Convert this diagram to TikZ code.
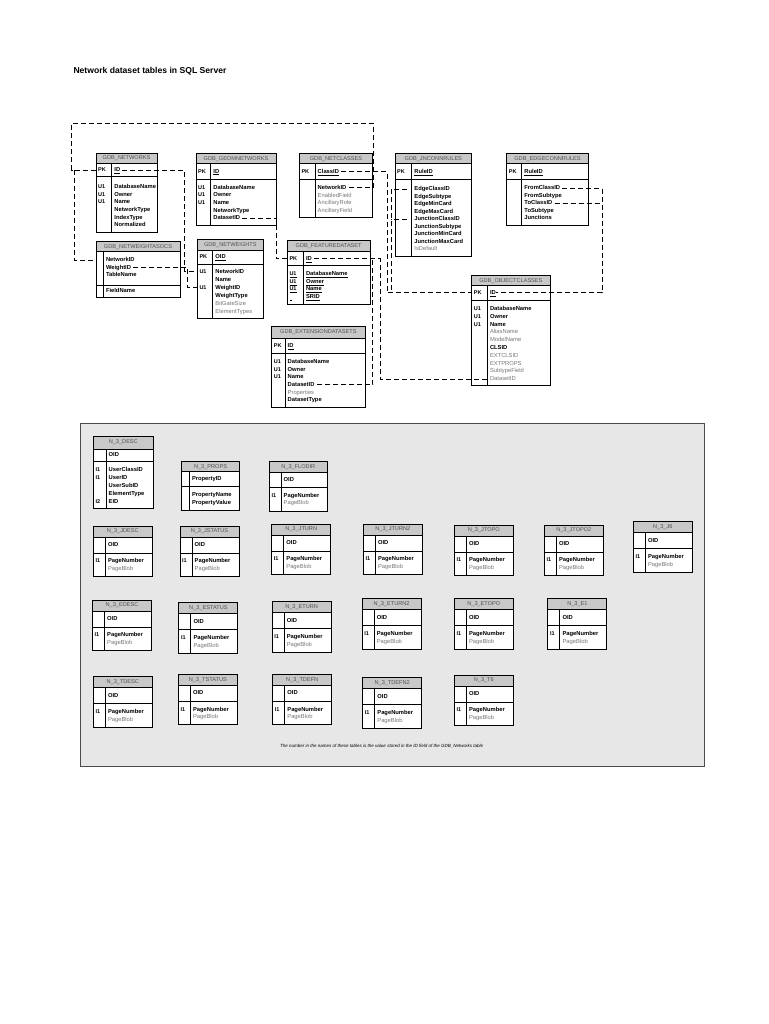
\documentclass[tikz,border=0pt]{standalone}
\usepackage{fontspec}
\setmainfont{Liberation Sans}
\usetikzlibrary{calc}
\definecolor{hdrfill}{HTML}{C8C8C8}
\definecolor{hdrtext}{HTML}{505050}
\definecolor{fieldgray}{HTML}{777777}
\definecolor{panelfill}{HTML}{E7E7E7}
\definecolor{panelline}{HTML}{4A4A4A}
\newcommand\dbU[1]{\underline{#1}}
\newcommand\dbG[1]{{\mdseries\color{fieldgray}#1}}
\pgfkeys{/db/.is family, /db/.cd,
  x/.store in=\dbx, y/.store in=\dby, w/.store in=\dbw,
  h/.store in=\dbh, p/.store in=\dbp, b/.store in=\dbb,
  d/.store in=\dbd, t/.store in=\dbt, s/.store in=\dbs, q/.store in=\dbq}
\newcommand\dbtable[5]{%
  \pgfkeys{/db/.cd,h=10.5,p=15,b=40,d=15,t=9,s=7.7,q=-1,#1}%
  \node[hdrbox,minimum width=\dbw pt,minimum height=\dbh pt,anchor=north west] (#2) at (\dbx,\dby) {#3};
  \node[secbox,minimum width=\dbw pt,minimum height=\dbp pt,anchor=north west] (#2-s1) at (#2.south west) {};
  \node[secbox,minimum width=\dbw pt,minimum height=\dbb pt,anchor=north west] (#2-s2) at (#2-s1.south west) {};
  \draw[tblline] ([xshift=\dbd pt]#2-s1.north west) -- ([xshift=\dbd pt]#2-s2.south west);
  \pgfmathsetmacro\dbqq{\dbq<0 ? \dbp/2 : \dbq}%
  \pgfmathsetmacro\dbfx{\dbd+2.5}%
  \foreach \kk/\ff [count=\ii] in {#4}{%
    \pgfmathsetmacro\yy{\dbqq+(\ii-1)*\dbs}%
    \node[keytext] (#2-pk\ii) at ([xshift=2pt,yshift=-\yy pt]#2-s1.north west) {\kk};
    \node[fldtext] (#2-p\ii) at ([xshift=\dbfx pt,yshift=-\yy pt]#2-s1.north west) {\ff};
  }%
  \foreach \kk/\ff [count=\ii] in {#5}{%
    \pgfmathsetmacro\yy{\dbt+(\ii-1)*\dbs}%
    \node[keytext] (#2-k\ii) at ([xshift=2pt,yshift=-\yy pt]#2-s2.north west) {\kk};
    \node[fldtext] (#2-f\ii) at ([xshift=\dbfx pt,yshift=-\yy pt]#2-s2.north west) {\ff};
  }%
}
\newcommand\nthree[4]{%
  \dbtable{x=#3,y=#4,w=59,h=11,p=16,b=23.5,d=12,t=8.3,s=7.6}{#1}{#2}{{}/OID}{I1/PageNumber,{}/\dbG{PageBlob}}}
\begin{document}
\begin{tikzpicture}[x=1pt,y=-1pt,
  tblline/.style={draw=black,line width=1pt},
  hdrbox/.style={draw=black,line width=1pt,fill=hdrfill,inner sep=0pt,outer sep=0pt,
    text=hdrtext,font=\fontsize{5.6}{6}\selectfont},
  secbox/.style={draw=black,line width=1pt,fill=white,inner sep=0pt,outer sep=0pt},
  keytext/.style={inner sep=0pt,anchor=west,text height=4.3pt,text depth=1pt,
    font=\fontsize{5.5}{6}\selectfont\bfseries},
  fldtext/.style={inner sep=0pt,anchor=west,text height=4.3pt,text depth=1pt,
    font=\fontsize{5.8}{6}\selectfont\bfseries},
  conn/.style={draw=black,line width=0.9pt,dash pattern=on 5pt off 3pt},
  panel/.style={draw=panelline,line width=0.9pt,fill=panelfill,inner sep=0pt,outer sep=0pt}]
\fill[white] (0,0) rectangle (768,1024);
\useasboundingbox (0,0) rectangle (768,1024);

\node[anchor=west,inner sep=0pt,font=\fontsize{8.6}{10}\selectfont\bfseries] (title) at (73.3,71.7) {Network dataset tables in SQL Server};

% bus coordinates for connector routing
\coordinate (bL) at (71.7,123.3);
\coordinate (bR) at (373.3,123.3);
\coordinate (vA) at (74,0);
\coordinate (vN) at (184.5,0);
\coordinate (vW) at (187.5,0);
\coordinate (vC) at (387,0);
\coordinate (vD) at (391,0);
\coordinate (vE) at (602,0);
\coordinate (vF) at (380,0);
\coordinate (vG) at (372.7,0);

% ---------------- top tables ----------------
\dbtable{x=96,y=153.3,w=61,h=10,p=13.4,b=55.6,d=15.7,t=10,s=7.7}{NETWORKS}{GDB\_NETWORKS}{PK/\dbU{ID}}{U1/DatabaseName,U1/Owner,U1/Name,{}/NetworkType,{}/IndexType,{}/Normalized}
\dbtable{x=196,y=154,w=80,h=10,p=15.3,b=46.7,d=14.7,t=8.4,s=7.65}{GEOM}{GDB\_GEOMNETWORKS}{PK/\dbU{ID}}{U1/DatabaseName,U1/Owner,U1/Name,{}/NetworkType,{}/DatasetID}
\dbtable{x=299.3,y=154,w=73.4,h=10,p=15.3,b=38,d=15.7,t=8.4,s=7.7}{NETCLASSES}{GDB\_NETCLASSES}{PK/\dbU{ClassID}}{{}/NetworkID,{}/\dbG{EnabledField},{}/\dbG{AncillaryRole},{}/\dbG{AncillaryField}}
\dbtable{x=395,y=154,w=76.7,h=10,p=16,b=76.7,d=16.7,t=9.3,s=7.5}{JN}{GDB\_JNCONNRULES}{PK/\dbU{RuleID}}{{}/EdgeClassID,{}/EdgeSubtype,{}/EdgeMinCard,{}/EdgeMaxCard,{}/JunctionClassID,{}/JunctionSubtype,{}/JunctionMinCard,{}/JunctionMaxCard,{}/\dbG{IsDefault}}
\dbtable{x=506.7,y=154,w=81.6,h=10,p=15.3,b=46.4,d=15,t=9,s=7.5}{EC}{GDB\_EDGECONNRULES}{PK/\dbU{RuleID}}{{}/FromClassID,{}/FromSubtype,{}/ToClassID,{}/ToSubtype,{}/Junctions}
\dbtable{x=96,y=241.7,w=84,h=10,p=33.3,q=8.3,b=12.7,d=7.3,t=5.5,s=7.6}{ASOCS}{GDB\_NETWEIGHTASOCS}{{}/NetworkID,{}/WeightID,{}/TableName}{{}/FieldName}
\dbtable{x=197.3,y=239.3,w=66,h=10.7,p=14,b=54.3,d=15.4,t=7.7,s=8}{NETWEIGHTS}{GDB\_NETWEIGHTS}{PK/\dbU{OID}}{U1/NetworkID,{}/Name,U1/WeightID,{}/WeightType,{}/\dbG{BitGateSize},{}/\dbG{ElementTypes}}
\dbtable{x=287.3,y=240,w=82.7,h=11.7,p=14,b=38.3,d=16,t=8.3,s=7.6}{FEAT}{GDB\_FEATUREDATASET}{PK/\dbU{ID}}{\dbU{U1}/\dbU{DatabaseName},\dbU{U1}/\dbU{Owner},\dbU{U1}/\dbU{Name},\dbU{\hspace{2pt}}/\dbU{SRID}}
\dbtable{x=271.7,y=326.7,w=93.3,h=11.6,p=15,b=54.4,d=13.3,t=8.4,s=7.7}{EXT}{GDB\_EXTENSIONDATASETS}{PK/\dbU{ID}}{U1/DatabaseName,U1/Owner,U1/Name,{}/DatasetID,{}/\dbG{Properties},{}/DatasetType}
\dbtable{x=471.7,y=275.7,w=78.3,h=10,p=14.3,b=85.7,d=15.6,t=9,s=7.78}{OBJ}{GDB\_OBJECTCLASSES}{PK/\dbU{ID}}{U1/DatabaseName,U1/Owner,U1/Name,{}/\dbG{AliasName},{}/\dbG{ModelName},{}/CLSID,{}/\dbG{EXTCLSID},{}/\dbG{EXTPROPS},{}/\dbG{SubtypeField},{}/\dbG{DatasetID}}

% ---------------- connectors ----------------
\draw[conn] (NETWORKS-s1.west) -| (bL) -- (bR) -- (bR |- NETCLASSES-f1.east) -- (NETCLASSES-f1.east);
\draw[conn] (NETWORKS-s1.west -| vA) -- (vA |- ASOCS-p1) -- (ASOCS-p1 -| ASOCS.west);
\draw[conn,shorten <=2pt] (NETWORKS-p1.east) -- (NETWORKS-p1 -| vN) -- (vN |- NETWEIGHTS-f1) -- (NETWEIGHTS-f1 -| NETWEIGHTS.west);
\draw[conn,shorten <=2pt] (ASOCS-p2.east) -- (ASOCS-p2 -| vW) -- (vW |- NETWEIGHTS-f3) -- (NETWEIGHTS-f3 -| NETWEIGHTS.west);
\draw[conn,shorten <=2pt] (GEOM-f5.east) -- (GEOM-f5 -| GEOM.east) |- (FEAT-s1.west);
\draw[conn,shorten <=2pt] (NETCLASSES-p1.east) -- (NETCLASSES-p1 -| vC) |- (OBJ-s1.west);
\draw[conn,shorten <=7pt] (JN-f1.west) -- (JN-f1 -| vD) -- (vD |- OBJ-s1.west);
\draw[conn,shorten <=7pt] (JN-f5.west) -- (JN-f5 -| vD);
\draw[conn,shorten <=2pt] (EC-f1.east) -- (EC-f1 -| vE) |- (OBJ-p1.east);
\draw[conn,shorten <=2pt] (EC-f3.east) -- (EC-f3 -| vE);
\draw[conn,shorten <=2pt,shorten >=2pt] (FEAT-p1.east) -- (FEAT-p1 -| vF) |- (OBJ-f10.west);
\draw[conn,shorten <=2pt] (EXT-f4.east) -- (EXT-f4 -| vG) -- (vG |- FEAT-p1);

% ---------------- bottom panel ----------------
\node[panel,minimum width=624pt,minimum height=343pt,anchor=north west] (panel) at (80,423) {};
\dbtable{x=93.3,y=436,w=60,h=13,p=12,b=47.3,d=12.7,t=9,s=7.9}{DESC}{N\_3\_DESC}{{}/OID}{I1/UserClassID,I1/UserID,{}/UserSubID,{}/ElementType,I2/EID}
\dbtable{x=181.7,y=461.7,w=57.6,h=10,p=15,b=23.3,d=7.6,t=8.3,s=7.7}{PROPS}{N\_3\_PROPS}{{}/PropertyID}{{}/PropertyName,{}/PropertyValue}
\dbtable{x=269.3,y=461.7,w=58,h=11,p=14.6,b=23.7,d=11.7,t=8.4,s=7.6}{FLODIR}{N\_3\_FLODIR}{{}/OID}{I1/PageNumber,{}/\dbG{PageBlob}}
\nthree{JDESC}{N\_3\_JDESC}{93.3}{526}
\nthree{JSTATUS}{N\_3\_JSTATUS}{180}{526}
\nthree{JTURN}{N\_3\_JTURN}{271.7}{524}
\nthree{JTURNB}{N\_3\_JTURN2}{363.3}{524}
\nthree{JTOPO}{N\_3\_JTOPO}{454.3}{525}
\nthree{JTOPOB}{N\_3\_JTOPO2}{544.3}{525}
\nthree{JSIX}{N\_3\_J6}{633.3}{521.7}
\nthree{EDESC}{N\_3\_EDESC}{92.5}{600}
\nthree{ESTATUS}{N\_3\_ESTATUS}{178.9}{602.5}
\nthree{ETURN}{N\_3\_ETURN}{272.1}{601.8}
\nthree{ETURNB}{N\_3\_ETURN2}{362.1}{598.9}
\nthree{ETOPO}{N\_3\_ETOPO}{454.3}{598.9}
\nthree{EONE}{N\_3\_E1}{547.9}{598.9}
\nthree{TDESC}{N\_3\_TDESC}{93.3}{676.7}
\nthree{TSTATUS}{N\_3\_TSTATUS}{178.3}{674.3}
\nthree{TDEFN}{N\_3\_TDEFN}{272.7}{674.3}
\nthree{TDEFNB}{N\_3\_TDEFN2}{362.7}{677.7}
\nthree{TSIX}{N\_3\_T6}{454.3}{675}
\node[anchor=west,inner sep=0pt,font=\fontsize{4.5}{5}\selectfont\itshape] (note) at (280,745.7) {The number in the names of these tables is the value stored in the ID field of the GDB\_Networks table};
\end{tikzpicture}
\end{document}
